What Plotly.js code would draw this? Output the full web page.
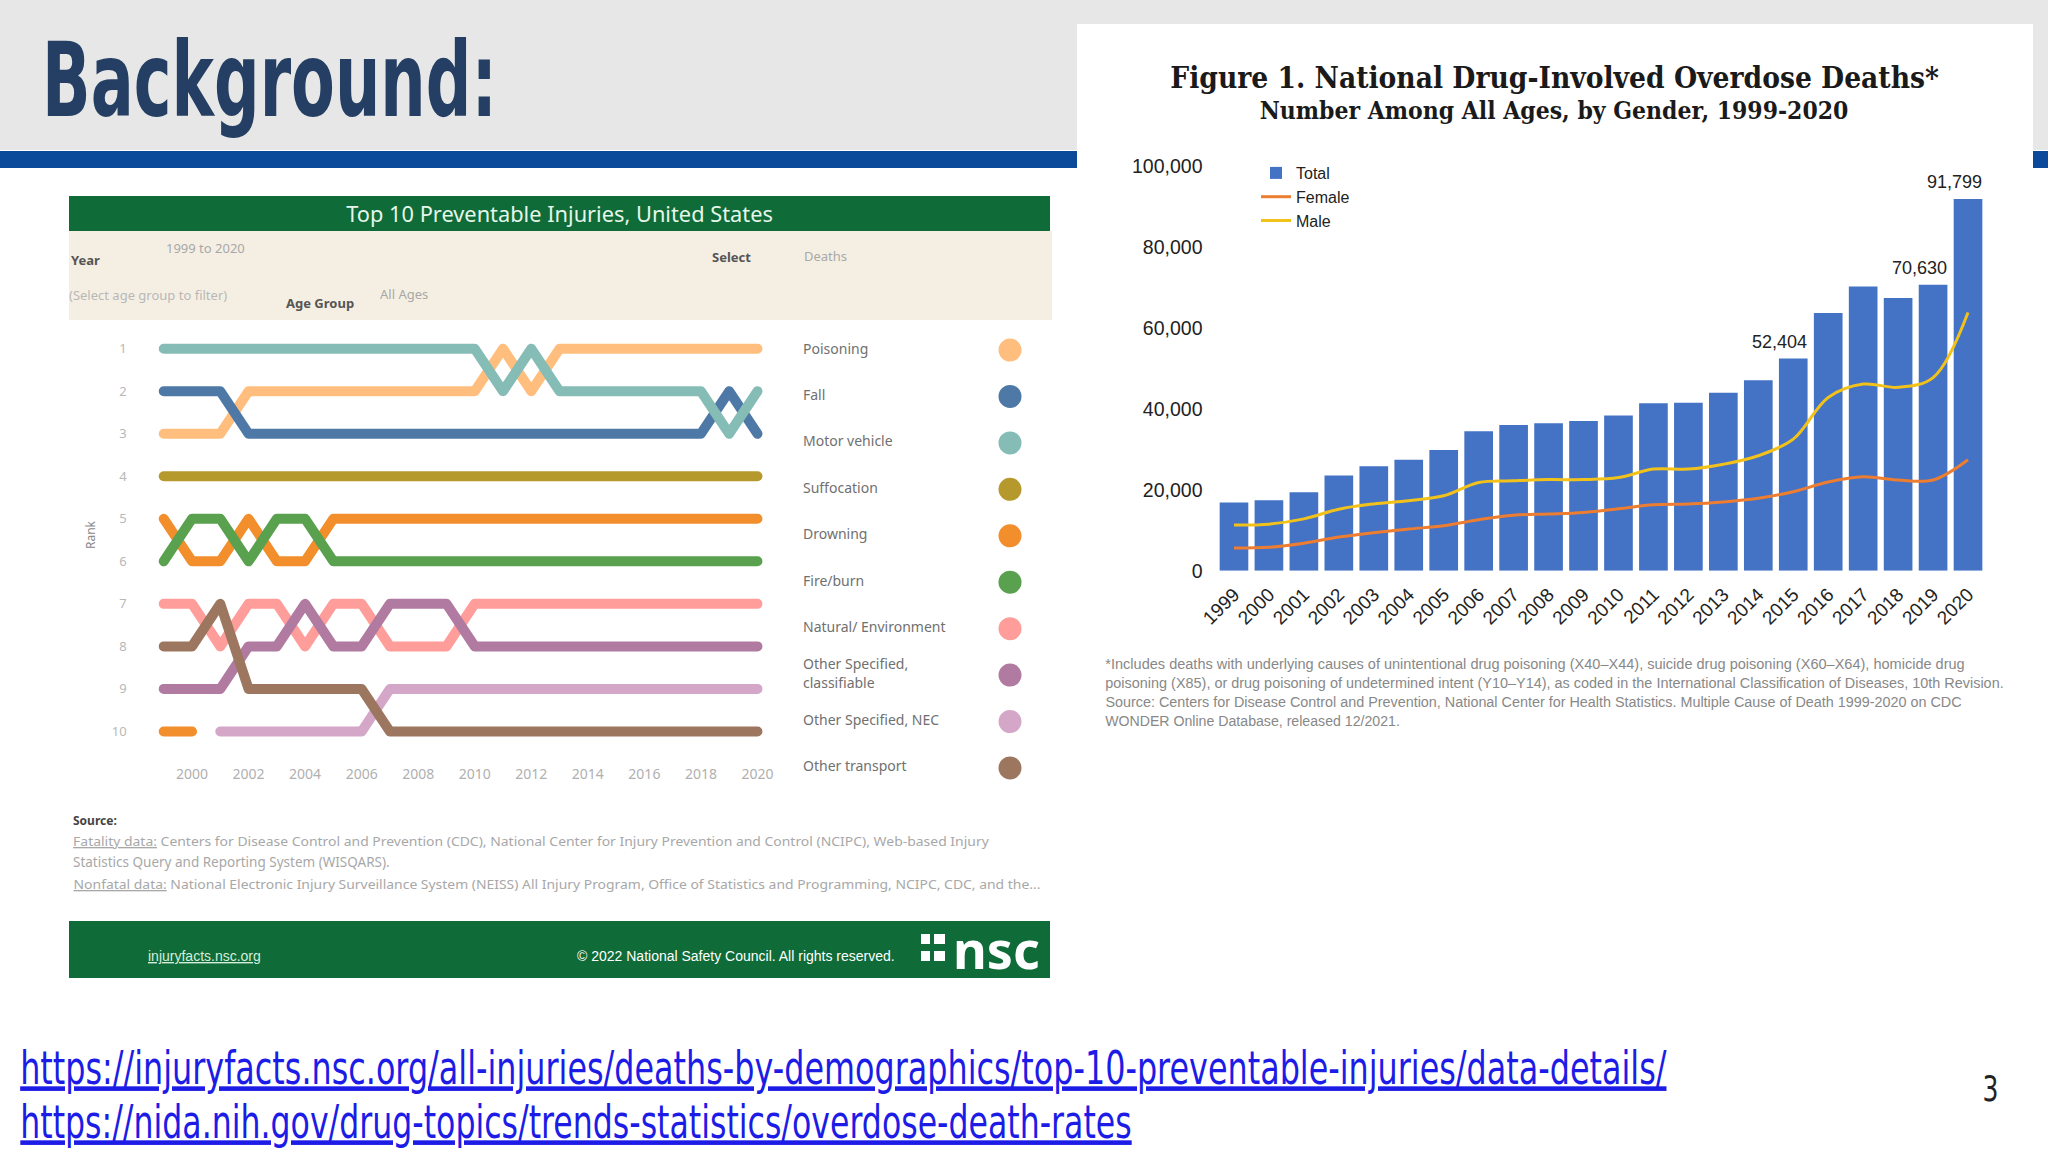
<!DOCTYPE html>
<html><head><meta charset="utf-8">
<script src="https://cdn.plot.ly/plotly-3.0.1.min.js"></script>
<style>html,body{margin:0;padding:0;background:#fff;overflow:hidden}#chart{width:2048px;height:1152px}</style>
</head><body><div id="chart"></div>
<script>
// ---------------- DATA ----------------
const rankYears = [1999,2000,2001,2002,2003,2004,2005,2006,2007,2008,2009,2010,2011,2012,2013,2014,2015,2016,2017,2018,2019,2020];
const rankTickYears = [2000,2002,2004,2006,2008,2010,2012,2014,2016,2018,2020];
const rankTicks = [1,2,3,4,5,6,7,8,9,10];
const injuryNames = ['Poisoning','Fall','Motor vehicle','Suffocation','Drowning','Fire/burn','Natural/ Environment','Other Specified,<br>classifiable','Other Specified, NEC','Other transport'];
const poisoningRank   = [3,3,3,2,2,2,2,2,2,2,2,2,1,2,1,1,1,1,1,1,1,1];
const fallRank        = [2,2,2,3,3,3,3,3,3,3,3,3,3,3,3,3,3,3,3,3,2,3];
const motorRank       = [1,1,1,1,1,1,1,1,1,1,1,1,2,1,2,2,2,2,2,2,3,2];
const suffocationRank = [4,4,4,4,4,4,4,4,4,4,4,4,4,4,4,4,4,4,4,4,4,4];
const drowningRank    = [5,6,6,5,6,6,5,5,5,5,5,5,5,5,5,5,5,5,5,5,5,5];
const fireRank        = [6,5,5,6,5,5,6,6,6,6,6,6,6,6,6,6,6,6,6,6,6,6];
const naturalRank     = [7,7,8,7,7,8,7,7,8,8,8,7,7,7,7,7,7,7,7,7,7,7];
const classifiableRank= [9,9,9,8,8,7,8,8,7,7,7,8,8,8,8,8,8,8,8,8,8,8];
const necRank         = [null,null,10,10,10,10,10,10,9,9,9,9,9,9,9,9,9,9,9,9,9,9];
const transportRank   = [8,8,7,9,9,9,9,9,10,10,10,10,10,10,10,10,10,10,10,10,10,10];
const earlyTenthRank  = [10,10,null,null,null,null,null,null,null,null,null,null,null,null,null,null,null,null,null,null,null,null];

const overdoseYears = [1999,2000,2001,2002,2003,2004,2005,2006,2007,2008,2009,2010,2011,2012,2013,2014,2015,2016,2017,2018,2019,2020];
const totalDeaths  = [16849,17415,19394,23518,25785,27424,29813,34425,36010,36450,37004,38329,41340,41502,43982,47055,52404,63632,70237,67367,70630,91799];
const femaleDeaths = [5600,5800,6800,8300,9400,10300,11100,12600,13700,14000,14400,15300,16300,16500,17000,17900,19500,21900,23200,22400,22400,27400];
const maleDeaths   = [11300,11500,12800,15200,16500,17300,18500,21800,22200,22500,22500,23000,25100,25100,26300,28400,32500,42800,46100,45300,47700,63800];
const labeledYears = [2015,2019,2020];

// ---------------- STYLE ----------------
const rankSeries = [poisoningRank,fallRank,motorRank,suffocationRank,drowningRank,fireRank,naturalRank,classifiableRank,necRank,transportRank];
const injuryColors = ['#ffbe7d','#4e79a7','#86bcb6','#b6992d','#f28e2b','#59a14f','#ff9d9a','#b07aa1','#d4a6c8','#9d7660'];
const W=2048,H=1152;
const px=x=>x/W, py=y=>1-y/H;
const SANS='Noto Sans, Open Sans, sans-serif';
const DSANS='DejaVu Sans, sans-serif';
const SERIF='DejaVu Serif, serif';
const LSANS='Liberation Sans, Arial, sans-serif';

const traces=[];
rankSeries.forEach((arr,i)=>{
  traces.push({type:'scatter',mode:'lines',x:rankYears,y:arr,xaxis:'x',yaxis:'y',
    line:{color:injuryColors[i],width:10},connectgaps:false,showlegend:false,hoverinfo:'skip',name:injuryNames[i]});
});
traces.push({type:'scatter',mode:'lines',x:rankYears,y:earlyTenthRank,xaxis:'x',yaxis:'y',
  line:{color:'#f28e2b',width:10},showlegend:false,hoverinfo:'skip',name:'other'});
const idx=injuryNames.map((_,i)=>i);
traces.push({type:'scatter',mode:'text',x:idx.map(()=>0),y:idx,text:injuryNames,textposition:'middle right',cliponaxis:false,
  textfont:{family:SANS,size:14,color:'#707070'},xaxis:'x3',yaxis:'y3',showlegend:false,hoverinfo:'skip'});
traces.push({type:'scatter',mode:'markers',x:idx.map(()=>1),y:idx,cliponaxis:false,marker:{size:23,color:injuryColors,line:{width:0}},
  xaxis:'x3',yaxis:'y3',showlegend:false,hoverinfo:'skip'});
traces.push({type:'bar',x:overdoseYears,y:totalDeaths,name:'Total',marker:{color:'#4472c4'},xaxis:'x2',yaxis:'y2',hoverinfo:'skip'});
traces.push({type:'scatter',mode:'lines',x:overdoseYears,y:femaleDeaths,name:'Female',line:{color:'#ed7d31',width:3,shape:'spline'},xaxis:'x2',yaxis:'y2',hoverinfo:'skip'});
traces.push({type:'scatter',mode:'lines',x:overdoseYears,y:maleDeaths,name:'Male',line:{color:'#f2c21b',width:3,shape:'spline'},xaxis:'x2',yaxis:'y2',hoverinfo:'skip'});

// ---------------- LAYOUT ----------------
const fitList=[]; // [annotation index, target width in px, anchor]
const annotations=[];
function ann(text,x,y,o,fitW){
  const a=Object.assign({text:text,x:px(x),y:py(y),xref:'paper',yref:'paper',showarrow:false,xanchor:'left',yanchor:'middle'},o||{});
  if(fitW) fitList.push([annotations.length,fitW,a.xanchor]);
  annotations.push(a);
}
ann('<b>Background:</b>',40,80,{font:{family:DSANS,size:104,color:'#243f63'}},455);
ann('Top 10 Preventable Injuries, United States',559,214,{xanchor:'center',font:{family:SANS,size:21,color:'#e6f6ea'}},427);
ann('<b>Year</b>',69,260,{font:{family:SANS,size:13,color:'#555'}});
ann('1999 to 2020',164,248,{font:{family:SANS,size:13,color:'#a8a8a8'}});
ann('<b>Select</b>',710,257,{font:{family:SANS,size:13,color:'#555'}});
ann('Deaths',802,256,{font:{family:SANS,size:13,color:'#a8a8a8'}});
ann('(Select age group to filter)',67,295,{font:{family:SANS,size:13,color:'#b8b8b8'}});
ann('<b>Age Group</b>',284,303,{font:{family:SANS,size:13,color:'#555'}});
ann('All Ages',378,294,{font:{family:SANS,size:13,color:'#a8a8a8'}});
ann('Rank',90,535,{xanchor:'center',textangle:-90,font:{family:SANS,size:12,color:'#888'}});
ann('<b>Source:</b>',71,820,{font:{family:SANS,size:12,color:'#444'}});
ann('<span style="text-decoration:underline">Fatality data:</span> Centers for Disease Control and Prevention (CDC), National Center for Injury Prevention and Control (NCIPC), Web-based Injury',71,841,{font:{family:SANS,size:13.5,color:'#a8a8a8'}},916);
ann('Statistics Query and Reporting System (WISQARS).',71,862,{font:{family:SANS,size:13.5,color:'#a8a8a8'}});
ann('<span style="text-decoration:underline">Nonfatal data:</span> National Electronic Injury Surveillance System (NEISS) All Injury Program, Office of Statistics and Programming, NCIPC, CDC, and the...',71,884,{font:{family:SANS,size:13.5,color:'#a8a8a8'}},968);
ann('injuryfacts.nsc.org',146,956,{font:{family:LSANS,size:14,color:'#d5eddb',lineposition:'under'}});
ann('© 2022 National Safety Council. All rights reserved.',897,956,{xanchor:'right',font:{family:LSANS,size:14,color:'#ffffff'}});
ann('<b>nsc</b>',951,948,{font:{family:SANS,size:52,color:'#ffffff'}});
ann('<b>Figure 1. National Drug-Involved Overdose Deaths*</b>',1554,78,{xanchor:'center',font:{family:SERIF,size:29,color:'#1a1a1a'}},769);
ann('<b>Number Among All Ages, by Gender, 1999-2020</b>',1554,110,{xanchor:'center',font:{family:SERIF,size:24,color:'#1a1a1a'}},589);
ann('*Includes deaths with underlying causes of unintentional drug poisoning (X40–X44), suicide drug poisoning (X60–X64), homicide drug',1103,663,{font:{family:LSANS,size:15.5,color:'#888'}},860);
ann('poisoning (X85), or drug poisoning of undetermined intent (Y10–Y14), as coded in the International Classification of Diseases, 10th Revision.',1103,682,{font:{family:LSANS,size:15.5,color:'#888'}},899);
ann('Source: Centers for Disease Control and Prevention, National Center for Health Statistics. Multiple Cause of Death 1999-2020 on CDC',1103,701,{font:{family:LSANS,size:15.5,color:'#888'}},857);
ann('WONDER Online Database, released 12/2021.',1103,720,{font:{family:LSANS,size:15.5,color:'#888'}},295);
ann('https://injuryfacts.nsc.org/all-injuries/deaths-by-demographics/top-10-preventable-injuries/data-details/',18,1068,{font:{family:DSANS,size:46,color:'#1c1ce6',lineposition:'under'}},1647);
ann('https://nida.nih.gov/drug-topics/trends-statistics/overdose-death-rates',18,1122,{font:{family:DSANS,size:46,color:'#1c1ce6',lineposition:'under'}},1112);
ann('3',1990,1088,{xanchor:'center',font:{family:DSANS,size:36,color:'#222'}},16);
labeledYears.forEach(yr=>{
  const v=totalDeaths[overdoseYears.indexOf(yr)];
  annotations.push({x:yr,y:v,xref:'x2',yref:'y2',text:v.toLocaleString('en-US'),showarrow:false,yanchor:'bottom',xshift:-14,yshift:5,
    font:{family:LSANS,size:18,color:'#222'}});
});

function rect(x0,y0,x1,y1,fill,layer){return {type:'rect',xref:'paper',yref:'paper',x0:px(x0),x1:px(x1),y0:py(y1),y1:py(y0),fillcolor:fill,line:{width:0},layer:layer||'below'};}
const shapes=[
  rect(0,0,2048,150,'#e7e7e7'),
  rect(0,151,2048,168,'#0b4a9b'),
  rect(1077,24,2033,210,'#ffffff'),
  rect(69,196,1050,231,'#0f6b37'),
  rect(69,231,1052,320,'#f5efe3'),
  rect(69,921,1050,978,'#0f6b37'),
  rect(921,934,930,944,'#ffffff','above'),
  rect(921,951,930,961,'#ffffff','above'),
  rect(934,934,945,944,'#ffffff','above'),
  rect(934,951,945,961,'#ffffff','above')
];

const layout={
  width:W,height:H,margin:{l:0,r:0,t:0,b:0},paper_bgcolor:'#ffffff',plot_bgcolor:'rgba(0,0,0,0)',
  showlegend:true,bargap:0.18,
  xaxis:{domain:[px(149.6),px(771.6)],range:[1998.5,2020.5],anchor:'y',tickvals:rankTickYears,showgrid:false,zeroline:false,showline:false,ticks:'',
    ticklabelstandoff:11,tickfont:{family:SANS,size:14,color:'#b0b0b0'}},
  yaxis:{domain:[py(752.7),py(327.4)],range:[10.5,0.5],anchor:'x',tickvals:rankTicks,showgrid:false,zeroline:false,showline:false,ticks:'',
    ticklabelstandoff:22,tickfont:{family:SANS,size:13,color:'#b8b8b8'}},
  xaxis3:{domain:[px(803),px(1010)],range:[0,1],anchor:'y3',visible:false},
  yaxis3:{domain:[py(791.2),py(326.8)],range:[9.5,-0.5],anchor:'x3',visible:false},
  xaxis2:{domain:[px(1216.5),px(1985.5)],range:[1998.5,2020.5],anchor:'y2',tickvals:overdoseYears,tickangle:-45,showgrid:false,zeroline:false,showline:false,ticks:'',
    ticklabelstandoff:8,tickfont:{family:LSANS,size:19,color:'#222'}},
  yaxis2:{domain:[py(570.7),py(165.9)],range:[0,100000],anchor:'x2',dtick:20000,tickformat:',d',showgrid:false,zeroline:false,showline:false,ticks:'',
    ticklabelstandoff:13,tickfont:{family:LSANS,size:19.5,color:'#222'}},
  legend:{x:px(1256),y:py(156),xanchor:'left',yanchor:'top',bgcolor:'rgba(0,0,0,0)',font:{family:LSANS,size:16,color:'#222'},tracegroupgap:0,itemwidth:30},
  annotations:annotations,shapes:shapes
};
Plotly.newPlot('chart',traces,layout,{displayModeBar:false,staticPlot:true}).then(gd=>{
  // round line ends on the rank (bump) chart, as in the original
  gd.querySelectorAll('.subplot.xy .scatterlayer .js-line').forEach(p=>{
    p.style.strokeLinecap='round'; p.style.strokeLinejoin='round';
  });
  // horizontally condense texts whose reference typeface is narrower than the installed ones
  fitList.forEach(([i,target,anchor])=>{
    const g=gd.querySelector('.annotation[data-index="'+i+'"]');
    if(!g) return;
    const t=g.querySelector('text');
    if(!t) return;
    const bb=t.getBBox();
    if(!bb.width) return;
    const sx=target/bb.width;
    const x0=anchor==='center'?bb.x+bb.width/2:(anchor==='right'?bb.x+bb.width:bb.x);
    t.setAttribute('transform','translate('+(x0*(1-sx))+',0) scale('+sx+',1)');
  });
});
</script></body></html>
